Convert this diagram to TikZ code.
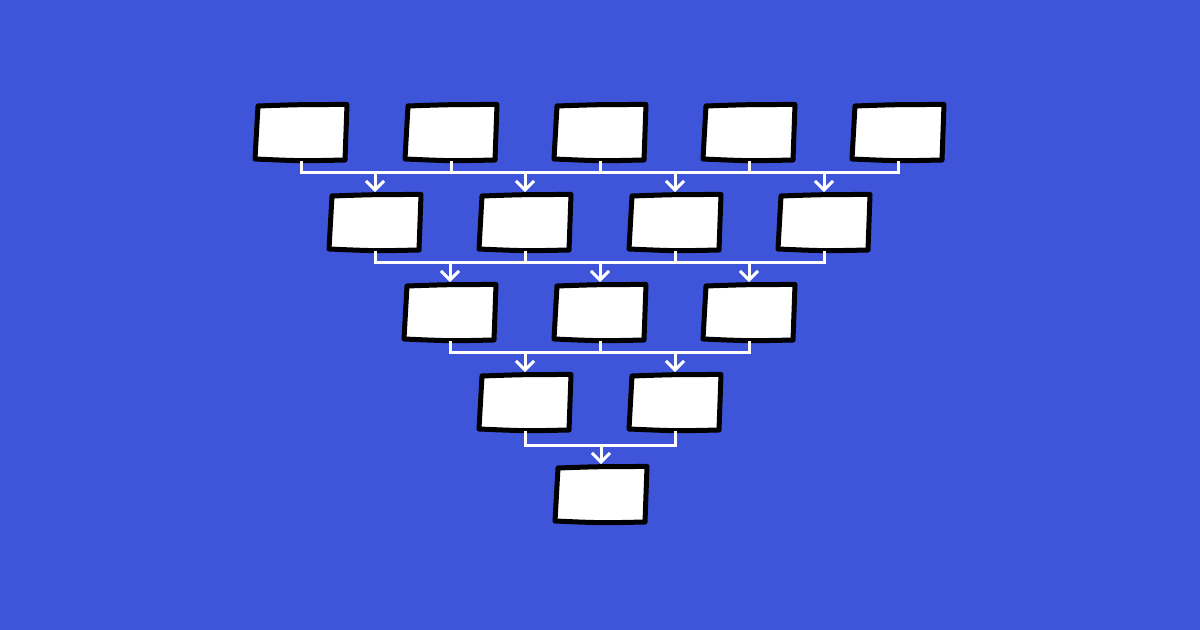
\documentclass[tikz,border=0pt]{standalone}
\usetikzlibrary{arrows.meta,calc}
\definecolor{bg}{HTML}{3E54D9}
\tikzset{
  cell/.style={draw=none,inner sep=0pt,minimum width=45pt,minimum height=27.5pt},
  boxline/.style={draw=black,fill=white,line width=2.5pt,line join=round},
  conn/.style={draw=white,line width=1.5pt},
  arr/.style={conn,-{Straight Barb[length=4.5pt,width=9pt,line width=1.5pt]},shorten >=1.5pt}
}
\newcommand{\wbox}[3]{%
  \node[cell] (#1) at (#2,#3) {};
  \draw[boxline] ($(#1.center)+(-43,-27)$) .. controls ($(#1.center)+(0,-28.5)$) .. ($(#1.center)+(46,-28.5)$)
     .. controls ($(#1.center)+(44.5,0)$) .. ($(#1.center)+(44,27)$)
     .. controls ($(#1.center)+(0,28)$) .. ($(#1.center)+(-46,26)$)
     .. controls ($(#1.center)+(-44,0)$) .. ($(#1.center)+(-43,-27)$) -- cycle;
}
\begin{document}
\begin{tikzpicture}[x=0.5pt,y=-0.5pt]
\fill[bg] (0,0) rectangle (1200,630);
\useasboundingbox (0,0) rectangle (1200,630);
% row 1
\wbox{a1}{301}{133}\wbox{a2}{451}{133}\wbox{a3}{600}{133}\wbox{a4}{749}{133}\wbox{a5}{898}{133}
% row 2
\wbox{b1}{375}{223}\wbox{b2}{525}{223}\wbox{b3}{675}{223}\wbox{b4}{824}{223}
% row 3
\wbox{c1}{450}{313}\wbox{c2}{600}{313}\wbox{c3}{749}{313}
% row 4
\wbox{d1}{525}{403}\wbox{d2}{675}{403}
% row 5
\wbox{e1}{601}{495}
% connectors
\coordinate (h1) at (0,173);
\coordinate (h2) at (0,263);
\coordinate (h3) at (0,353);
\coordinate (h4) at (0,446);
\draw[conn] (a1.south) -- (a1.south |- h1) -- (a5.south |- h1) -- (a5.south);
\foreach \i in {2,3,4} \draw[conn] (a\i.south) -- (a\i.south |- h1);
\foreach \i in {1,2,3,4} \draw[arr] (b\i.north |- h1) -- (b\i.north);
\draw[conn] (b1.south) -- (b1.south |- h2) -- (b4.south |- h2) -- (b4.south);
\foreach \i in {2,3} \draw[conn] (b\i.south) -- (b\i.south |- h2);
\foreach \i in {1,2,3} \draw[arr] (c\i.north |- h2) -- (c\i.north);
\draw[conn] (c1.south) -- (c1.south |- h3) -- (c3.south |- h3) -- (c3.south);
\draw[conn] (c2.south) -- (c2.south |- h3);
\foreach \i in {1,2} \draw[arr] (d\i.north |- h3) -- (d\i.north);
\draw[conn] (d1.south) -- (d1.south |- h4) -- (d2.south |- h4) -- (d2.south);
\draw[arr] (e1.north |- h4) -- (e1.north);
\end{tikzpicture}
\end{document}
